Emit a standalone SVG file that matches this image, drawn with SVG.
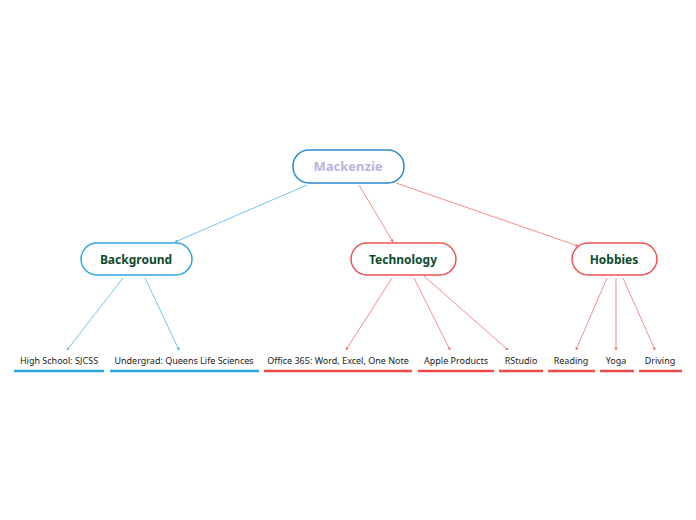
<svg xmlns="http://www.w3.org/2000/svg" width="696" height="520" viewBox="0 0 696 520">
<defs>
<style>
.b{fill:#fff;stroke-width:1.5}
.t{font-family:"Noto Sans","Open Sans",sans-serif;font-weight:bold;font-size:12px;text-anchor:middle;fill:#0d4a2e}
.l{font-family:"Noto Sans","Open Sans",sans-serif;font-size:9px;text-anchor:middle;fill:#222}
.cb{stroke:#4db8e8;stroke-width:0.8;fill:none}
.cr{stroke:#f07070;stroke-width:0.8;fill:none}
.ub{stroke:#2aa7e0;stroke-width:2.5}
.ur{stroke:#f04a4a;stroke-width:2.5}
</style>
<marker id="mb" viewBox="0 0 6 6" refX="5" refY="3" markerWidth="4" markerHeight="4" orient="auto"><path d="M0,0L6,3L0,6z" fill="#4db8e8"/></marker>
<marker id="mr" viewBox="0 0 6 6" refX="5" refY="3" markerWidth="4" markerHeight="4" orient="auto"><path d="M0,0L6,3L0,6z" fill="#f07070"/></marker>
</defs>
<g id="connectors">
<path class="cb" d="M307,185L175,242" marker-end="url(#mb)"/>
<path class="cr" d="M359,185L393,242" marker-end="url(#mr)"/>
<path class="cr" d="M396,183L578,246" marker-end="url(#mr)"/>
<path class="cb" d="M123,278L67,350" marker-end="url(#mb)"/>
<path class="cb" d="M145,278L179,350" marker-end="url(#mb)"/>
<path class="cr" d="M392,278L346,350" marker-end="url(#mr)"/>
<path class="cr" d="M414,278L450,350" marker-end="url(#mr)"/>
<path class="cr" d="M424,276L508,350" marker-end="url(#mr)"/>
<path class="cr" d="M607,278L576,350" marker-end="url(#mr)"/>
<path class="cr" d="M616,278L616,350" marker-end="url(#mr)"/>
<path class="cr" d="M623,278L655,350" marker-end="url(#mr)"/>
</g>
<g id="mackenzie"><rect class="b" x="293" y="150" width="111" height="33" rx="16" stroke="#2a8acb"/><text x="348" y="171" class="t" style="fill:#b8b4dc;font-size:13px">Mackenzie</text></g>
<g id="background"><rect class="b" x="81" y="243" width="111" height="32" rx="16" stroke="#2aa7e0"/><text x="136" y="264" class="t">Background</text></g>
<g id="technology"><rect class="b" x="351" y="243" width="105" height="32" rx="16" stroke="#f05050"/><text x="403" y="264" class="t">Technology</text></g>
<g id="hobbies"><rect class="b" x="572" y="243" width="85" height="32" rx="16" stroke="#f05050"/><text x="614" y="264" class="t">Hobbies</text></g>
<g id="hs"><text x="59" y="364" class="l">High School: SJCSS</text><line class="ub" x1="14" y1="371" x2="104" y2="371"/></g>
<g id="ug"><text x="184" y="364" class="l">Undergrad: Queens Life Sciences</text><line class="ub" x1="110" y1="371" x2="259" y2="371"/></g>
<g id="office"><text x="338" y="364" class="l">Office 365: Word, Excel, One Note</text><line class="ur" x1="264" y1="371" x2="412" y2="371"/></g>
<g id="apple"><text x="456" y="364" class="l">Apple Products</text><line class="ur" x1="418" y1="371" x2="494" y2="371"/></g>
<g id="rstudio"><text x="521" y="364" class="l">RStudio</text><line class="ur" x1="499" y1="371" x2="543" y2="371"/></g>
<g id="reading"><text x="571" y="364" class="l">Reading</text><line class="ur" x1="548" y1="371" x2="595" y2="371"/></g>
<g id="yoga"><text x="616" y="364" class="l">Yoga</text><line class="ur" x1="600" y1="371" x2="634" y2="371"/></g>
<g id="driving"><text x="660" y="364" class="l">Driving</text><line class="ur" x1="639" y1="371" x2="682" y2="371"/></g>
</svg>
